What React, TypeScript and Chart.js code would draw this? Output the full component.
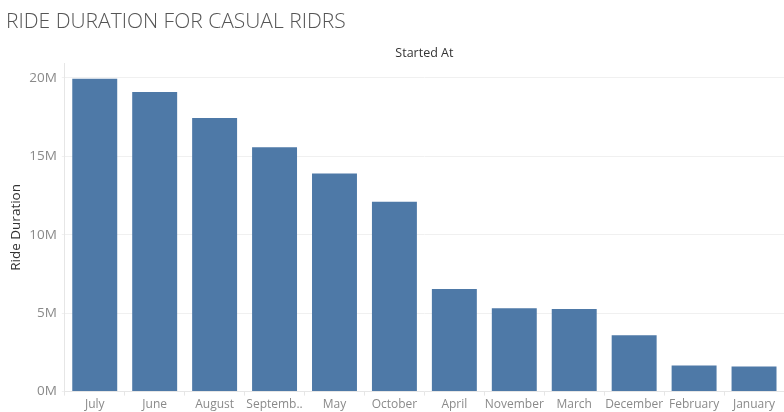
import { useEffect, useRef } from 'react'
import { Chart, registerables } from 'chart.js'
Chart.register(...registerables)

const MONTHS = ['July','June','August','September','May','October','April','November','March','December','February','January']
const DURATION = [19.94e6, 19.1e6, 17.44e6, 15.58e6, 13.9e6, 12.1e6, 6.54e6, 5.32e6, 5.26e6, 3.59e6, 1.67e6, 1.6e6]
const Y_TICKS = [0, 5e6, 10e6, 15e6, 20e6]

export default function App() {
  const ref = useRef<HTMLCanvasElement>(null)
  const chart = useRef<Chart | null>(null)

  useEffect(() => {
    document.body.style.margin = '0'
    if (!ref.current) return
    const tc = '#8a8a8a', font = "'Open Sans'"
    chart.current = new Chart(ref.current, {
      type: 'bar',
      data: {
        labels: MONTHS,
        datasets: [{ data: DURATION, backgroundColor: '#4e79a7', barPercentage: 0.75, categoryPercentage: 1 }]
      },
      options: {
        responsive: true, maintainAspectRatio: false, animation: false,
        layout: { padding: { left: 6, right: 0, top: 0, bottom: -2 } },
        plugins: {
          legend: { display: false },
          tooltip: { enabled: false },
          title: { display: true, text: 'RIDE DURATION FOR CASUAL RIDRS', align: 'start', color: '#555',
            font: { size: 21, family: font, weight: '300' }, padding: { top: 9, bottom: 7 } },
          subtitle: { display: true, text: 'Started At', fullSize: false, color: '#333',
            font: { size: 12.5, family: font }, padding: { top: 5, bottom: 2 } }
        },
        scales: {
          x: {
            offset: true,
            grid: { display: true, drawOnChartArea: false, drawTicks: true, tickLength: 4, offset: true, color: '#e6e6e6' },
            border: { display: true, color: '#e6e6e6' },
            ticks: { color: tc, font: { size: 12, family: font }, maxRotation: 0, autoSkip: false, padding: 2,
              callback: function (v) { const l = MONTHS[v as number]; return l.length > 8 ? l.slice(0, 7) + '..' : l } }
          },
          y: {
            min: 0, max: 20.93e6,
            afterBuildTicks: (axis) => { axis.ticks = Y_TICKS.map(value => ({ value })) },
            grid: { color: '#f0f0f0', tickLength: 3 },
            border: { display: true, color: '#e6e6e6' },
            title: { display: true, text: 'Ride Duration', color: '#333', font: { size: 13.5, family: font }, padding: { top: 2, bottom: 0 } },
            ticks: { color: tc, font: { size: 13.5, family: font }, padding: 5,
              callback: (v) => (+v / 1e6).toFixed(0) + 'M' }
          }
        }
      }
    })
    return () => { chart.current?.destroy(); chart.current = null }
  }, [])

  return (
    <div style={{ position: 'relative', width: 784, height: 412, background: '#fff' }}>
      <canvas ref={ref} />
    </div>
  )
}
